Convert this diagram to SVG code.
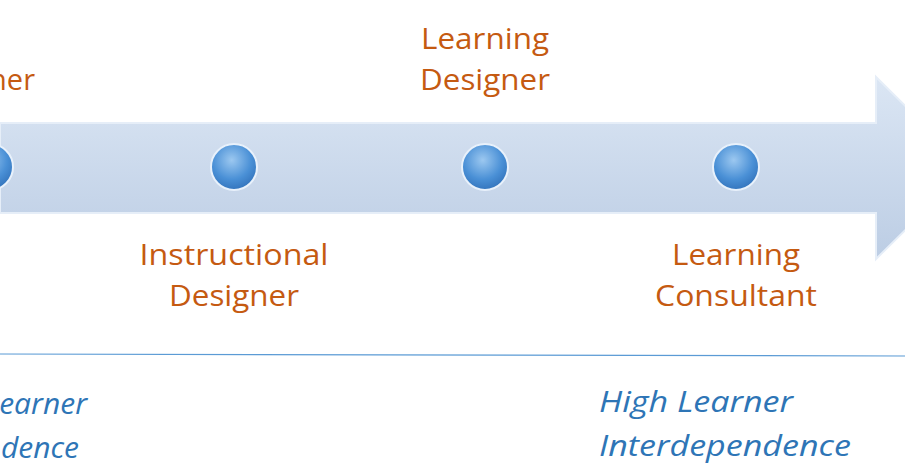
<svg xmlns="http://www.w3.org/2000/svg" width="905" height="475" viewBox="0 0 905 475">
<defs>
<linearGradient id="ag" x1="0" y1="0" x2="0" y2="1"><stop offset="0" stop-color="#dbe6f4"/><stop offset="1" stop-color="#bccde4"/></linearGradient>
<radialGradient id="bg" cx="0.45" cy="0.35" r="0.7"><stop offset="0" stop-color="#9cc8f0"/><stop offset="0.6" stop-color="#4a90d6"/><stop offset="1" stop-color="#2f6fb8"/></radialGradient>
<style>
.o{font-family:"Open Sans","Noto Sans",sans-serif;font-size:29px;fill:#C55A11;text-anchor:middle}
.e{text-anchor:end}
.b{font-family:"Open Sans","Noto Sans",sans-serif;font-size:30px;fill:#2E75B6;font-style:italic}
.dot{fill:url(#bg);stroke:#e8f1fb;stroke-width:2}
</style>
</defs>
<rect width="905" height="475" fill="#fff"/>
<g id="arrow"><path d="M0,123 H876 V77 L968,168 L876,259 V213 H0 Z" fill="url(#ag)" stroke="#e6eef8" stroke-width="2"/></g>
<g id="n1"><circle class="dot" cx="-10" cy="167" r="23"/><text class="o e" x="35" y="90">Designer</text></g>
<g id="n2"><circle class="dot" cx="234" cy="167" r="23"/><text class="o" x="234" y="265" textLength="189" lengthAdjust="spacingAndGlyphs">Instructional</text><text class="o" x="234" y="306" textLength="130" lengthAdjust="spacingAndGlyphs">Designer</text></g>
<g id="n3"><circle class="dot" cx="485" cy="167" r="23"/><text class="o" x="485" y="49" textLength="128" lengthAdjust="spacingAndGlyphs">Learning</text><text class="o" x="485" y="90" textLength="130" lengthAdjust="spacingAndGlyphs">Designer</text></g>
<g id="n4"><circle class="dot" cx="736" cy="167" r="23"/><text class="o" x="736" y="265" textLength="128" lengthAdjust="spacingAndGlyphs">Learning</text><text class="o" x="736" y="306" textLength="162" lengthAdjust="spacingAndGlyphs">Consultant</text></g>
<g id="connectors"><line x1="0" y1="354" x2="905" y2="356" stroke="#5b9bd5" stroke-width="1.2"/></g>
<g id="low"><text class="b e" x="87" y="414">Low Learner</text><text class="b e" x="79" y="458">Independence</text></g>
<g id="high"><text class="b" x="599" y="412" textLength="194" lengthAdjust="spacingAndGlyphs">High Learner</text><text class="b" x="599" y="456" textLength="252" lengthAdjust="spacingAndGlyphs">Interdependence</text></g>
</svg>
